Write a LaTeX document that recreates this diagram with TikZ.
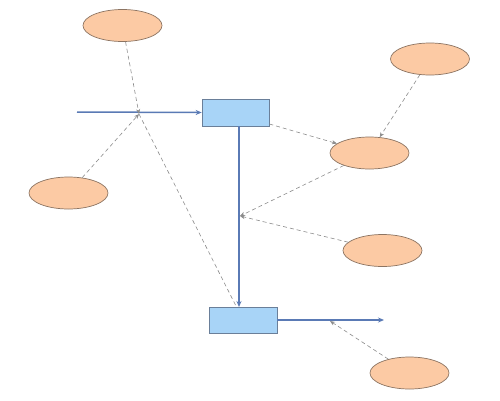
\documentclass[tikz,border=0pt]{standalone}
\usetikzlibrary{arrows.meta}
\definecolor{peach}{HTML}{FCCAA4}
\definecolor{peachline}{HTML}{8C7462}
\definecolor{boxfill}{HTML}{A8D4F7}
\definecolor{boxline}{HTML}{6A7F99}
\definecolor{flowc}{HTML}{5A7AB5}
\definecolor{linkc}{HTML}{8C8C8C}
\tikzset{
  aux/.style={ellipse, draw=peachline, fill=peach, line width=0.7pt, minimum width=79pt, minimum height=32pt, inner sep=0pt},
  stock/.style={rectangle, draw=boxline, fill=boxfill, line width=0.7pt, minimum width=67pt, minimum height=27pt, inner sep=0pt},
  flow/.style={draw=flowc, line width=1.5pt, -{Stealth[length=6pt,width=5pt]}},
  link/.style={draw=linkc, line width=0.6pt, dash pattern=on 4pt off 3pt, -{Stealth[length=5pt,width=4pt]}},
  linknoarrow/.style={draw=linkc, line width=0.6pt, dash pattern=on 4pt off 3pt},
}
\usetikzlibrary{shapes.geometric}
\begin{document}
\begin{tikzpicture}[x=1pt,y=-1pt]
\useasboundingbox (0,0) rectangle (500,400);
\fill[white] (0,0) rectangle (500,400);
% auxiliaries
\node[aux] (e1) at (122.5,25.5) {};
\node[aux] (e2) at (430,59) {};
\node[aux] (e3) at (369.5,153) {};
\node[aux] (e4) at (382.5,250.5) {};
\node[aux] (e5) at (409.5,373) {};
\node[aux] (e6) at (68.5,193) {};
% stocks
\node[stock] (s1) at (235.5,112.5) {};
\node[stock, minimum width=68pt, minimum height=26pt] (s2) at (243,320) {};
% flow points
\coordinate (src) at (77,112);
\coordinate (v1) at (139,114);
\coordinate (s1bot) at (239,126);
\coordinate (s2top) at (239,307);
\coordinate (v2) at (240,216);
\coordinate (sink) at (384,320);
\coordinate (v3) at (330,321);
% flows
\draw[flow] (src) -- (s1.west);
\draw[flow] (s1bot) -- (s2top);
\draw[flow] (s2.east) -- (sink);
% links
\draw[link] (e1) -- (v1);
\draw[link] (e6) -- (v1);
\draw[linknoarrow] (v1) -- (236,306);
\draw[link] (s1.east |- 0,124) -- (e3);
\draw[link] (e2) -- (e3);
\draw[link] (e3) -- (v2);
\draw[link] (e4) -- (v2);
\draw[link] (e5) -- (v3);
\end{tikzpicture}
\end{document}
